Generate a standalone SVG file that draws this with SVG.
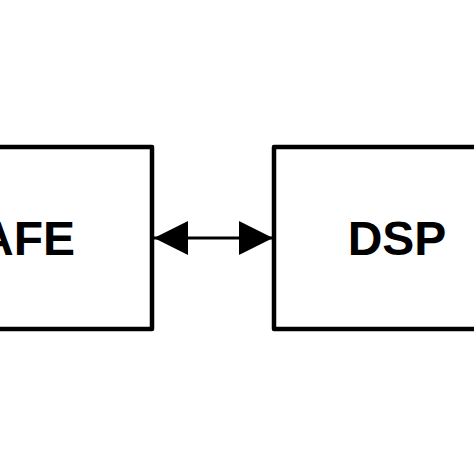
<svg xmlns="http://www.w3.org/2000/svg" width="474" height="474" viewBox="0 0 474 474">
<style>
.box{fill:#fff;stroke:#000;stroke-width:4.5;stroke-linejoin:round}
.lbl{font-family:"Liberation Sans",Arial,sans-serif;font-weight:bold;font-size:48px;fill:#000;text-anchor:middle}
.conn{stroke:#000;stroke-width:3;fill:none}
</style>
<defs>
<marker id="ah" markerUnits="userSpaceOnUse" markerWidth="36" markerHeight="36" refX="34" refY="17" orient="auto-start-reverse" viewBox="0 0 36 34">
<path d="M0,0 L34,17 L0,34 Z" fill="#000"/>
</marker>
</defs>
<rect width="474" height="474" fill="#fff"/>
<g id="afe">
<rect class="box" x="-98" y="147" width="250" height="182"/>
<text class="lbl" x="27" y="255">AFE</text>
</g>
<g id="dsp">
<rect class="box" x="274" y="147" width="250" height="182"/>
<text class="lbl" x="397" y="255">DSP</text>
</g>
<g id="connectors">
<line class="conn" x1="154" y1="238" x2="273" y2="238" marker-start="url(#ah)" marker-end="url(#ah)"/>
</g>
</svg>
